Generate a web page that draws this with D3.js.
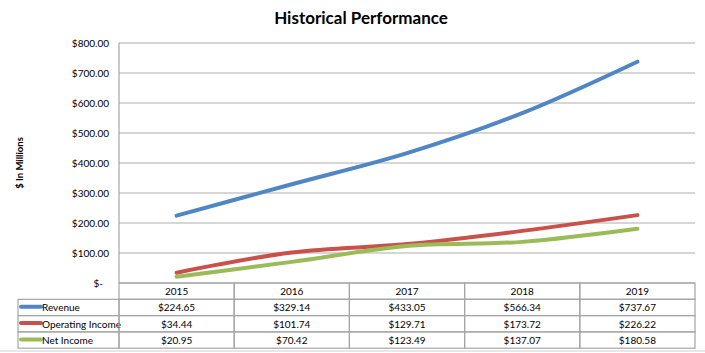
<!DOCTYPE html>
<head>
<script src="https://d3js.org/d3.v7.min.js"></script>
</head>
<body style="margin:0;background:#fff">
<style>
text { font-family: Lato, "Open Sans", sans-serif; fill: #000; }
.grid line { stroke: #c8c8c8; stroke-width: 1.5; }
.cell { stroke: #a6a6a6; stroke-width: 1.2; fill: none; }
</style>
<svg width="705" height="353"></svg>
<script>

var years = ["2015", "2016", "2017", "2018", "2019"];
var revenue = [224.65, 329.14, 433.05, 566.34, 737.67];
var operatingIncome = [34.44, 101.74, 129.71, 173.72, 226.22];
var netIncome = [20.95, 70.42, 123.49, 137.07, 180.58];
var yTicks = [0, 100, 200, 300, 400, 500, 600, 700, 800];

var series = [
  {name: "Revenue", values: revenue, color: "#4f86c3"},
  {name: "Operating Income", values: operatingIncome, color: "#c9504b"},
  {name: "Net Income", values: netIncome, color: "#9bbb59"}
];

var svg = d3.select("svg");
var plotLeft = 119, plotRight = 695, plotTop = 43, plotBottom = 283;

var x = d3.scaleBand().domain(years).range([plotLeft, plotRight]);
var y = d3.scaleLinear().domain([0, 800]).range([plotBottom, plotTop]);

var fmt = function(v) { return v === 0 ? "$-" : "$" + d3.format(",.2f")(v); };
var money = d3.format("$.2f");

svg.append("text")
    .attr("x", 361).attr("y", 24)
    .attr("text-anchor", "middle")
    .style("font-size", "17px").style("font-weight", "bold")
    .text("Historical Performance");

svg.append("g").attr("class", "grid")
  .selectAll("line").data(yTicks.slice(1)).enter().append("line")
    .attr("x1", plotLeft).attr("x2", plotRight)
    .attr("y1", function(d) { return y(d); }).attr("y2", function(d) { return y(d); });

svg.append("line")
    .attr("x1", plotLeft).attr("x2", plotLeft).attr("y1", plotTop).attr("y2", plotBottom)
    .attr("stroke", "#a6a6a6").attr("stroke-width", 1.2);
svg.append("line")
    .attr("x1", plotLeft).attr("x2", plotRight).attr("y1", plotBottom).attr("y2", plotBottom)
    .attr("stroke", "#a6a6a6").attr("stroke-width", 1.2);

svg.append("g")
  .selectAll("text").data(yTicks).enter().append("text")
    .attr("x", function(d) { return d === 0 ? 103 : 109; })
    .attr("y", function(d) { return y(d) + 3.5; })
    .attr("text-anchor", "end")
    .style("font-size", "10px")
    .text(fmt);

svg.append("text")
    .attr("transform", "translate(23," + ((plotTop + plotBottom) / 2) + ") rotate(-90)")
    .attr("text-anchor", "middle")
    .style("font-size", "9.5px").style("font-weight", "bold")
    .text("$ In Millions");

var line = d3.line()
    .x(function(d, i) { return x(years[i]) + x.bandwidth() / 2; })
    .y(function(d) { return y(d); })
    .curve(d3.curveCatmullRom.alpha(0.5));

svg.append("g")
  .selectAll("path").data(series).enter().append("path")
    .attr("d", function(d) { return line(d.values); })
    .attr("fill", "none")
    .attr("stroke", function(d) { return d.color; })
    .attr("stroke-width", 4)
    .attr("stroke-linecap", "round");

// data table
var rowH = 16.3, tableLeft = 18;
var table = svg.append("g");

years.forEach(function(yr) {
  table.append("rect").attr("class", "cell")
      .attr("x", x(yr)).attr("y", plotBottom).attr("width", x.bandwidth()).attr("height", rowH);
  table.append("text")
      .attr("x", x(yr) + x.bandwidth() / 2).attr("y", plotBottom + 12)
      .attr("text-anchor", "middle").style("font-size", "10px")
      .text(yr);
});

series.forEach(function(s, r) {
  var ry = plotBottom + rowH * (r + 1);
  table.append("rect").attr("class", "cell")
      .attr("x", tableLeft).attr("y", ry).attr("width", plotLeft - tableLeft).attr("height", rowH);
  table.append("line")
      .attr("x1", 21).attr("x2", 41).attr("y1", ry + 7.5).attr("y2", ry + 7.5)
      .attr("stroke", s.color).attr("stroke-width", 4).attr("stroke-linecap", "round");
  table.append("text")
      .attr("x", 42).attr("y", ry + 12)
      .style("font-size", "10px")
      .text(s.name);
  years.forEach(function(yr, i) {
    table.append("rect").attr("class", "cell")
        .attr("x", x(yr)).attr("y", ry).attr("width", x.bandwidth()).attr("height", rowH);
    table.append("text")
        .attr("x", x(yr) + x.bandwidth() / 2).attr("y", ry + 12)
        .attr("text-anchor", "middle").style("font-size", "10px")
        .text(money(s.values[i]));
  });
});

svg.append("line")
    .attr("x1", 0).attr("x2", 705).attr("y1", 351).attr("y2", 351)
    .attr("stroke", "#d0d0d0").attr("stroke-width", 1);

</script>
</body>
